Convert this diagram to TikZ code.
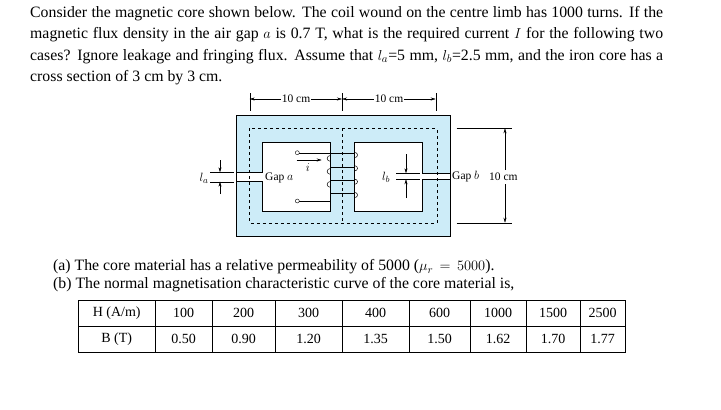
\documentclass[tikz,border=0pt]{standalone}
\usepackage{fontspec}
\setmainfont{Liberation Serif}
\usetikzlibrary{arrows.meta}
\definecolor{core}{RGB}{205,236,248}
\begin{document}
\begin{tikzpicture}[x=1pt,y=-1pt,
  dim/.style={-{Stealth[length=5pt,width=3pt]},line width=0.4pt},
  lbl/.style={inner sep=1pt,font=\fontsize{11.5}{12}\selectfont},
  cell/.style={draw,minimum height=26pt,inner sep=0pt,font=\fontsize{14}{15}\selectfont}]
\useasboundingbox (0,0) rectangle (721,410);
\node[anchor=north west,text width=633pt,align=justify,inner sep=0pt,font=\fontsize{15.8}{21.5}\selectfont] (para) at (30,6)
{Consider the magnetic core shown below. The coil wound on the centre limb has 1000 turns. If the\linebreak
magnetic flux density in the air gap $a$ is 0.7 T, what is the required current $I$ for the following two\linebreak
cases? Ignore leakage and fringing flux. Assume that $l_a$=5 mm, $l_b$=2.5 mm, and the iron core has a\linebreak
cross section of 3 cm by 3 cm.};
% core
\fill[core,draw=black,line width=0.8pt,even odd rule]
 (236.7,115) rectangle (450,236.7)
 (262.7,142.3) -- (330,142.3) -- (330,211) -- (262.7,211) -- (262.7,181.7) -- (236.7,181.7) -- (236.7,172.3) -- (262.7,172.3) -- cycle
 (354.3,142.3) -- (422.3,142.3) -- (422.3,173.3) -- (450,173.3) -- (450,179.3) -- (422.3,179.3) -- (422.3,211) -- (354.3,211) -- cycle;
\draw[line width=0.8pt] (236.7,172.3)--(236.7,181.7) (450,173.3)--(450,179.3);
\draw[dashed,line width=0.4pt] (249.3,128.3) rectangle (436.7,222.7) (342,128.3)--(342,222.7);
% top dims
\draw[line width=0.4pt] (249.7,93)--(249.7,111) (342,93)--(342,111) (435.7,93)--(435.7,111);
\node[lbl] (d1) at (296,99) {10 cm};
\node[lbl] (d2) at (389,99) {10 cm};
\draw[dim] (d1.west)--(249.7,99);\draw[dim] (d1.east)--(342,99);
\draw[dim] (d2.west)--(342,99);\draw[dim] (d2.east)--(435.7,99);
% right dim
\draw[line width=0.4pt] (456.7,128.3)--(511.7,128.3) (456.7,222.7)--(511.7,222.7);
\node[lbl,anchor=west] (gb) at (451,177) {Gap $b$};
\node[lbl,anchor=west,fill=white] (d3) at (488,177) {10 cm};
\draw[dim] (505,170)--(505,128.3);\draw[dim] (505,184)--(505,222.7);
% la
\draw[line width=0.4pt] (210,172.3)--(234,172.3) (210,181.7)--(234,181.7);
\draw[dim] (220,160)--(220,172.3);\draw[dim] (220,194)--(220,181.7);
\node[font=\fontsize{13}{14}\selectfont] (la) at (204,178) {$l_a$};
\node[lbl,anchor=west] (ga) at (264,178) {Gap $a$};
% lb
\draw[line width=0.4pt] (396,173.3)--(420,173.3) (396,179.3)--(420,179.3);
\draw[dim] (406,154)--(406,173.3);\draw[dim] (406,198)--(406,179.3);
\node[font=\fontsize{13}{14}\selectfont] (lb) at (386,177) {$l_b$};
% coil
\draw[line width=0.4pt] (299,152.7)--(355,152.7) (330,166.7)--(355,166.7) (330,180)--(355,180) (330,193.3)--(355,193.3) (299,201)--(330,201);
\foreach \y in {155,168.3,181.7,195} \draw[line width=0.5pt] (355,\y-2.5) arc (-90:90:2.5);
\foreach \y in {164,177,190} \draw[line width=0.5pt] (330,\y-2.8) arc (90:270:2.8);
\draw[fill=white,line width=0.4pt] (297.3,152.7) circle (2);
\draw[fill=white,line width=0.4pt] (297.3,201) circle (2);
\draw[dim] (296.7,160)--(321.7,160);
\node[lbl] (i) at (308,168) {$i$};
% parts
\node[anchor=west,inner sep=0pt,font=\fontsize{15.8}{17}\selectfont] (pa) at (53,267) {(a) The core material has a relative permeability of 5000 ($\mu_r\,=\,5000$).};
\node[anchor=west,inner sep=0pt,font=\fontsize{15.8}{17}\selectfont] (pb) at (53,285) {(b) The normal magnetisation characteristic curve of the core material is,};
% table
\def\xs{{78,155,212,275,342,409,470,526,580,625}}
\foreach \t [count=\k from 0] in {H (A/m),100,200,300,400,600,1000,1500,2500}{
  \pgfmathsetmacro\xa{\xs[\k]}\pgfmathsetmacro\xb{\xs[\k+1]}
  \node[cell,minimum width=\xb pt-\xa pt,anchor=north west] (h\k) at (\xa,300) {\t};}
\foreach \t [count=\k from 0] in {B (T),0.50,0.90,1.20,1.35,1.50,1.62,1.70,1.77}{
  \pgfmathsetmacro\xa{\xs[\k]}\pgfmathsetmacro\xb{\xs[\k+1]}
  \node[cell,minimum width=\xb pt-\xa pt,anchor=north west] (b\k) at (\xa,326) {\t};}
\end{tikzpicture}
\end{document}
